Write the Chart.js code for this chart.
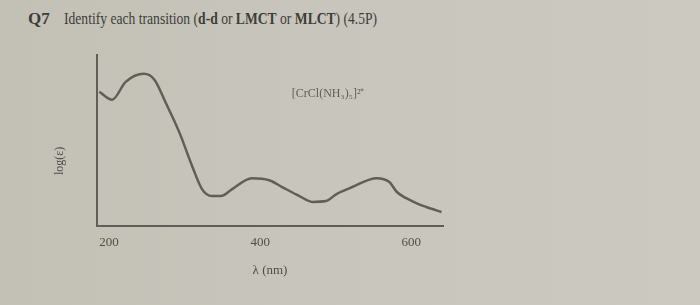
<!DOCTYPE html>
<html>
<head>
<meta charset="utf-8">
<script src="https://cdn.jsdelivr.net/npm/chart.js@4.4.1/dist/chart.umd.min.js"></script>
<style>
  html, body { margin:0; padding:0; }
  body {
    width:700px; height:305px; overflow:hidden; position:relative;
    background: linear-gradient(90deg, #c3c1b6 0%, #c8c6bc 45%, #cbc9c0 100%);
    font-family: "Liberation Serif", serif;
    color:#3d3d3a;
  }
  #q { position:absolute; left:28px; top:9px; font-size:17px; white-space:nowrap; }
  #q .n { font-weight:bold; margin-right:14px; }
  #q .txt { display:inline-block; transform-origin:left center; transform:scaleX(0.8); }
  #wrap { position:absolute; left:0; top:0; width:700px; height:305px; }
</style>
</head>
<body>
<div id="q"><span class="n">Q7</span><span class="txt">Identify each transition (<b>d-d</b> or <b>LMCT</b> or <b>MLCT</b>) (4.5P)</span></div>
<div id="wrap"><canvas id="c" width="700" height="305"></canvas></div>
<script>
// ========= DATOS =========
const wavelengths = [187, 204, 222, 246, 260, 275, 293, 310, 323, 336, 348, 363, 389, 412, 429, 452, 469, 487, 501, 522, 554, 571, 581, 601, 620, 640];
const logEps      = [7.85, 7.38, 8.43, 8.9, 8.55, 7.2, 5.47, 3.49, 2.15, 1.74, 1.74, 2.15, 2.79, 2.67, 2.27, 1.74, 1.4, 1.45, 1.86, 2.27, 2.79, 2.56, 1.98, 1.45, 1.1, 0.81];
const xTicks      = [200, 400, 600];
const complexLabel = '[CrCl(NH\u2083)\u2085]\u00B2\u207A';
const yTitle = 'log(\u03B5)';

const ink = '#5f5e58';

// etiquetas: complejo dentro del área y título del eje y
const labelPlugin = {
    id:'complexLabel',
    afterDatasetsDraw(chart){
        const {ctx, chartArea, scales:{x,y}} = chart;
        ctx.save();
        ctx.fillStyle = '#5e5e59';
        ctx.font = '12px "Liberation Serif", serif';
        ctx.textAlign = 'center';
        ctx.textBaseline = 'middle';
        ctx.fillText(complexLabel, x.getPixelForValue(490), y.getPixelForValue(7.75));
        // log(ε) girado
        ctx.fillStyle = '#4e4e4a';
        ctx.translate(chartArea.left - 37, y.getPixelForValue(3.8));
        ctx.rotate(-Math.PI/2);
        ctx.fillText(yTitle, 0, 0);
        ctx.restore();
    }
};

const points = wavelengths.map((w,i)=>({x:w, y:logEps[i]}));

new Chart(document.getElementById('c'),{
    type:'line',
    data:{ datasets:[{
        data:points,
        borderColor:ink,
        borderWidth:2.5,
        pointRadius:0,
        cubicInterpolationMode:'monotone',
        fill:false
    }]},
    options:{
        responsive:false,
        animation:false,
        layout:{ padding:{left:97, top:55, right:257, bottom:27} },
        plugins:{ legend:{display:false}, tooltip:{enabled:false} },
        scales:{
            x:{
                type:'linear', min:184, max:642,
                afterBuildTicks: s => { s.ticks = xTicks.map(v=>({value:v})); },
                grid:{ display:false, drawTicks:false },
                border:{ display:true, color:ink, width:2 },
                ticks:{ color:'#4e4e4a', padding:9, font:{family:'"Liberation Serif", serif', size:13} },
                title:{ display:true, text:'\u03BB (nm)', color:'#4e4e4a', padding:{top:3,bottom:0},
                        font:{family:'"Liberation Serif", serif', size:13} }
            },
            y:{
                min:0, max:10,
                grid:{ display:false, drawTicks:false },
                border:{ display:true, color:ink, width:2 },
                ticks:{ display:false }
            }
        }
    },
    plugins:[labelPlugin]
});
</script>
</body>
</html>
